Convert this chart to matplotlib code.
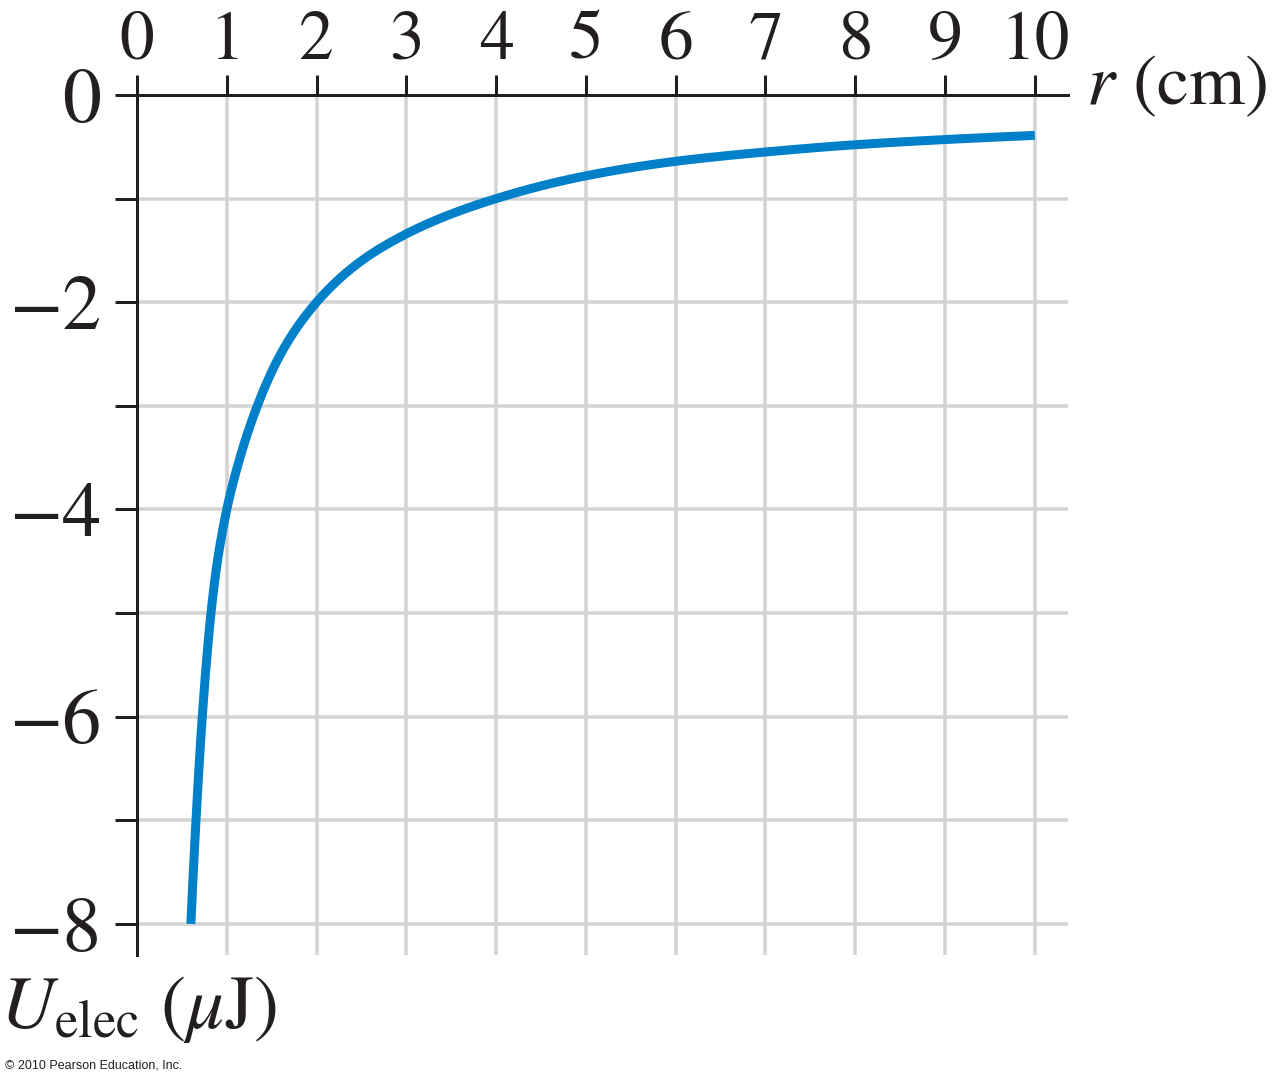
"""
Electric potential energy U_elec versus separation r, textbook-style figure.
"""
import numpy as np
import matplotlib
matplotlib.use('Agg')
import matplotlib.pyplot as plt

plt.rcParams['font.family'] = ['STIXGeneral', 'DejaVu Serif']
plt.rcParams['mathtext.fontset'] = 'stix'

# values
r_cm = [0.60, 0.657, 0.727, 0.824, 0.894, 1.0, 1.147, 1.34, 1.6, 2.0, 2.5, 3.0, 4.0, 5.0, 6.0, 7.0, 8.0, 9.0, 10.0]
u_uj = [-8.0, -7.0, -6.0, -5.0, -4.51, -4.0, -3.5, -3.0, -2.5, -2.0, -1.6, -1.34, -1.0, -0.78, -0.64, -0.55, -0.48, -0.43, -0.39]

x_ticks = list(range(0, 11))
y_ticks = [0, -1, -2, -3, -4, -5, -6, -7, -8]
y_tick_labels = ['0', '', '\u22122', '', '\u22124', '', '\u22126', '', '\u22128']

PX = 0.72  # points per pixel at dpi 100
BLUE = '#0080c8'
GRID = '#d3d3d3'
INK = '#231f20'


def pchip(x, y, xs):
    # monotone cubic through the read points so the curve stays smooth
    h = np.diff(x)
    d = np.diff(y) / h
    m = np.zeros_like(y)
    for k in range(1, len(x) - 1):
        if d[k - 1] * d[k] > 0:
            w1 = 2 * h[k] + h[k - 1]
            w2 = h[k] + 2 * h[k - 1]
            m[k] = (w1 + w2) / (w1 / d[k - 1] + w2 / d[k])
    m[0] = d[0]
    m[-1] = d[-1]
    out = np.empty_like(xs)
    for i, xv in enumerate(xs):
        k = max(min(np.searchsorted(x, xv) - 1, len(x) - 2), 0)
        t = (xv - x[k]) / h[k]
        h00 = 2 * t**3 - 3 * t**2 + 1
        h10 = t**3 - 2 * t**2 + t
        h01 = -2 * t**3 + 3 * t**2
        h11 = t**3 - t**2
        out[i] = h00 * y[k] + h10 * h[k] * m[k] + h01 * y[k + 1] + h11 * h[k] * m[k + 1]
    return out


fig = plt.figure(figsize=(12.76, 10.8), dpi=100)
ax = fig.add_axes([137 / 1276, 1 - 955 / 1080, (1068 - 137) / 1276, (955 - 95) / 1080])
ax.set_xlim(0, 10.37)
ax.set_ylim(-8.3, 0)

# interpolate in log-log space, where the curve is nearly straight
lr = np.log(np.array(r_cm))
lu = np.log(-np.array(u_uj))
xs = np.linspace(lr[0], lr[-1], 1200)
ax.plot(np.exp(xs), -np.exp(pchip(lr, lu, xs)), color=BLUE, lw=9 * PX,
        solid_capstyle='butt', zorder=3)

ax.set_xticks(x_ticks)
ax.set_yticks(y_ticks)
ax.set_yticklabels(y_tick_labels)
ax.grid(True, color=GRID, lw=3.5 * PX, zorder=0)
ax.set_axisbelow(True)

for s in ['right', 'bottom']:
    ax.spines[s].set_visible(False)
for s in ['top', 'left']:
    ax.spines[s].set_linewidth(3 * PX)
    ax.spines[s].set_color(INK)

ax.xaxis.tick_top()
ax.tick_params(axis='x', direction='out', length=20 * PX, width=3 * PX, color=INK,
               labelsize=50, pad=1, labelcolor=INK)
ax.tick_params(axis='y', direction='out', length=22 * PX, width=3 * PX, color=INK,
               labelsize=56, pad=10, labelcolor=INK)

fig.text(1086 / 1276, 1 - 88 / 1080, r'$r$ (cm)', fontsize=52, ha='left', va='center',
         color=INK)
fig.text(0 / 1276, 1 - 1028 / 1080, r'$U_{\mathrm{elec}}$ ($\mu$J)', fontsize=54, ha='left',
         va='baseline', color=INK)
fig.text(5 / 1276, 1 - 1068 / 1080, '\u00a9 2010 Pearson Education, Inc.', fontsize=9,
         family=['Liberation Sans', 'DejaVu Sans'], ha='left', va='baseline', color=INK)

fig.savefig('out.png', dpi=100)
